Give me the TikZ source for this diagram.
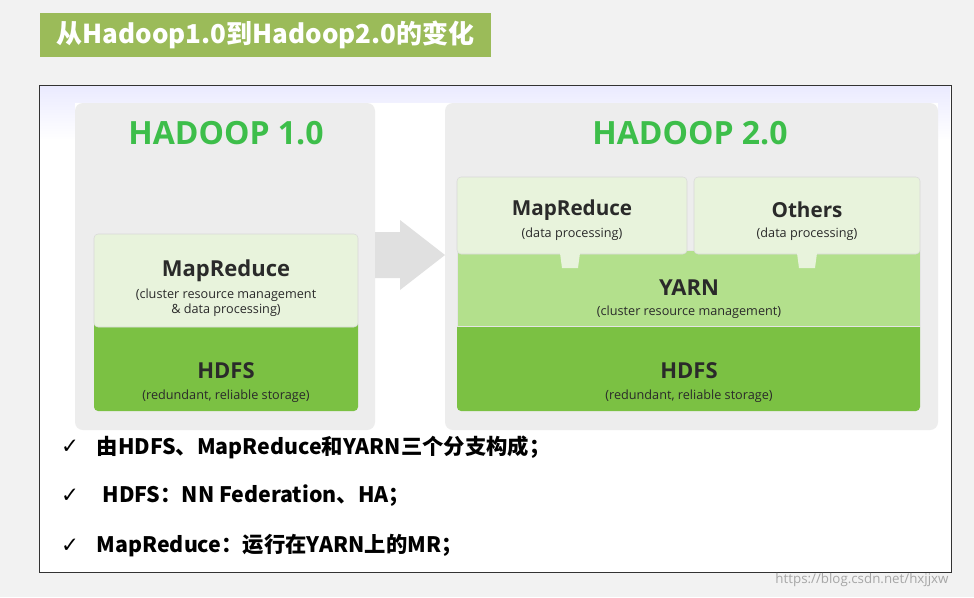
\documentclass[tikz,border=0pt]{standalone}
\usepackage{fontspec}
\setmainfont{Liberation Serif}
\setsansfont{Open Sans}
\newfontfamily\cjk{Noto Sans CJK SC}
\newfontfamily\dv{DejaVu Sans}
\definecolor{bgc}{HTML}{F2F2F2}
\definecolor{titg}{HTML}{9BBB59}
\definecolor{hg}{HTML}{3DBE4A}
\definecolor{lgreen}{HTML}{E8F3DC}
\definecolor{mgreen}{HTML}{B3E08C}
\definecolor{dgreen}{HTML}{7BC143}
\definecolor{panel}{HTML}{EDEDED}
\definecolor{txt}{HTML}{2A2A2A}
\begin{document}
\begin{tikzpicture}[x=0.75pt,y=-0.75pt,
  pan/.style={fill=panel,rounded corners=6pt},
  lbox/.style={fill=lgreen,draw=black!15,rounded corners=3pt},
  big/.style={font=\sffamily\bfseries\fontsize{16.5}{18}\selectfont,text=txt},
  sml/.style={font=\sffamily\fontsize{9.5}{11}\selectfont,text=txt,align=center},
  hd/.style={font=\sffamily\bfseries\fontsize{24}{26}\selectfont,text=hg},
  bul/.style={font=\cjk\bfseries\fontsize{16}{18}\selectfont,anchor=west,text=black}]
\useasboundingbox (0,0) rectangle (974,597);
\fill[bgc] (0,0) rectangle (974,597);
\node[fill=titg,minimum width=451*0.75pt,minimum height=44*0.75pt,text=white,font=\cjk\bfseries\fontsize{19.5}{21}\selectfont] (title) at (265.5,35) {从Hadoop1.0到Hadoop2.0的变化};
\draw[black!80,fill=white] (39,85) rectangle (951,572);
\shade[top color=blue!8,bottom color=white] (40,86) rectangle (950,140);
\fill[white] (75,103) rectangle (938,430);
% panels
\fill[pan] (75,103) rectangle (375,430);
\fill[pan] (445,103) rectangle (938,430);
\node[hd] (h1) at (226,133) {HADOOP 1.0};
\node[hd] (h2) at (690,133) {HADOOP 2.0};
% arrow
\fill[black!12] (375,232) -- (400,232) -- (400,220) -- (445,255) -- (400,290) -- (400,278) -- (375,278) -- cycle;
% left stack
\fill[dgreen,rounded corners=3pt] (94,320) rectangle (358,411);
\filldraw[lbox] (94,234) rectangle (358,327);
\node[big] (mr1) at (226,271) {MapReduce};
\node[sml] (mr1s) at (226,303) {(cluster resource management\\\& data processing)};
\node[big] (hd1) at (226,371) {HDFS};
\node[sml] (hd1s) at (226,396) {(redundant, reliable storage)};
% right stack
\fill[dgreen,rounded corners=3pt] (457,320) rectangle (920,411);
\fill[mgreen,draw=black!10] (457,250) rectangle (920,326);
\filldraw[lbox] (457,177) rectangle (687,254);
\filldraw[lbox] (694,177) rectangle (920,254);
\fill[lgreen] (560,253) -- (562,268) -- (578,268) -- (580,253) -- cycle;
\fill[lgreen] (797,253) -- (799,268) -- (815,268) -- (817,253) -- cycle;
\node[big,font=\sffamily\bfseries\fontsize{15.5}{17}\selectfont] (mr2) at (572,210) {MapReduce};
\node[sml] (mr2s) at (572,234) {(data processing)};
\node[big,font=\sffamily\bfseries\fontsize{15.5}{17}\selectfont] (ot) at (807,210) {Others};
\node[sml] (ots) at (807,234) {(data processing)};
\node[big] (yarn) at (689,288) {YARN};
\node[sml] (yarns) at (689,312) {(cluster resource management)};
\node[big] (hd2) at (689,371) {HDFS};
\node[sml] (hd2s) at (689,396) {(redundant, reliable storage)};
% bullets
\node[font=\dv\fontsize{16}{18}\selectfont] (c1) at (70,447) {✓};
\node[font=\dv\fontsize{16}{18}\selectfont] (c2) at (70,496) {✓};
\node[font=\dv\fontsize{16}{18}\selectfont] (c3) at (70,546) {✓};
\node[bul] (b1) at (92,447) {由HDFS、MapReduce和YARN三个分支构成；};
\node[bul] (b2) at (98,496) {HDFS：NN Federation、HA；};
\node[bul] (b3) at (92,546) {MapReduce：运行在YARN上的MR；};
\node[font=\sffamily\fontsize{10}{12}\selectfont,text=black!35] (wm) at (862,580) {https://blog.csdn.net/hxjjxw};
\end{tikzpicture}
\end{document}
